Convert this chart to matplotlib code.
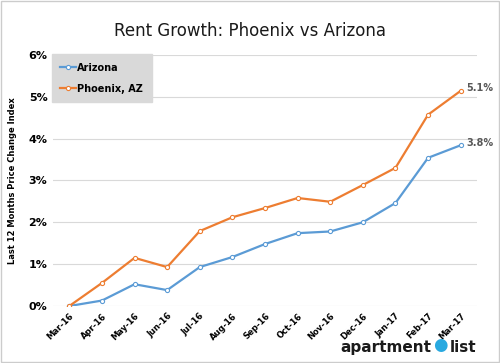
import numpy as np
import matplotlib.pyplot as plt
from matplotlib.patches import Rectangle

months = ["Mar-16", "Apr-16", "May-16", "Jun-16", "Jul-16", "Aug-16", "Sep-16",
          "Oct-16", "Nov-16", "Dec-16", "Jan-17", "Feb-17", "Mar-17"]
arizona = [0.0, 0.13, 0.52, 0.38, 0.93, 1.17, 1.48, 1.74, 1.78, 2.0, 2.46, 3.54, 3.84]
phoenix = [0.0, 0.55, 1.15, 0.93, 1.79, 2.12, 2.34, 2.58, 2.49, 2.89, 3.3, 4.57, 5.14]

blue = '#5b9bd5'
orange = '#ed7d31'

fig = plt.figure(figsize=(5.0, 3.63), dpi=100)
ax = fig.add_axes([0.106, 0.157, 0.848, 0.692])

x = np.arange(len(months))
ax.plot(x, arizona, color=blue, linewidth=1.6, marker='o', markersize=3,
        markerfacecolor='white', markeredgecolor=blue, markeredgewidth=0.8, label='Arizona')
ax.plot(x, phoenix, color=orange, linewidth=1.6, marker='o', markersize=3,
        markerfacecolor='white', markeredgecolor=orange, markeredgewidth=0.8, label='Phoenix, AZ')

ax.text(x[-1] + 0.18, phoenix[-1] + 0.06, f"{phoenix[-1]:.1f}%", fontsize=7,
        fontweight='bold', color='#595959', va='center')
ax.text(x[-1] + 0.18, arizona[-1] + 0.06, f"{arizona[-1]:.1f}%", fontsize=7,
        fontweight='bold', color='#595959', va='center')

ax.set_xlim(-0.5, len(months) - 0.5)
ax.set_ylim(0, 6)
ax.set_yticks(range(0, 7))
ax.set_yticklabels([f"{v}%" for v in range(0, 7)], fontsize=8, fontweight='bold')
ax.set_xticks(x)
ax.set_xticklabels(months, rotation=45, ha='right', rotation_mode='anchor',
                   fontsize=6, fontweight='bold')
ax.tick_params(length=0, pad=4)
ax.grid(axis='y', color='#d9d9d9', linewidth=0.8)
ax.set_axisbelow(True)
for s in ax.spines.values():
    s.set_visible(False)

ax.set_ylabel("Last 12 Months Price Change Index", fontsize=6, fontweight='bold', labelpad=8)

leg = ax.legend(loc='upper left', bbox_to_anchor=(-0.003, 1.003),
                prop={'weight': 'bold', 'size': 7}, frameon=True, fancybox=False,
                handlelength=1.6, handletextpad=0.1, labelspacing=1.1,
                borderpad=0.9, borderaxespad=0)
leg.get_frame().set_facecolor('#d9d9d9')
leg.get_frame().set_edgecolor('#d9d9d9')
leg.get_frame().set_alpha(1)

fig.text(0.5, 0.915, "Rent Growth: Phoenix vs Arizona", ha='center', va='center',
         fontsize=12, color='#1a1a1a')

# logo
fig.text(0.862, 0.03, "apartment", ha='right', va='baseline', fontsize=11,
         fontweight='bold', color='#1a1a1a')
fig.text(0.9, 0.03, "list", ha='left', va='baseline', fontsize=11,
         fontweight='bold', color='#1a1a1a')
fig.text(0.881, 0.05, "\u25CF", ha='center', va='center', fontsize=12, color='#29a9e0')

fig.patches.append(Rectangle((0.002, 0.003), 0.996, 0.994, transform=fig.transFigure,
                             fill=False, edgecolor='#cccccc', linewidth=1))

fig.savefig('out.png', dpi=100)
